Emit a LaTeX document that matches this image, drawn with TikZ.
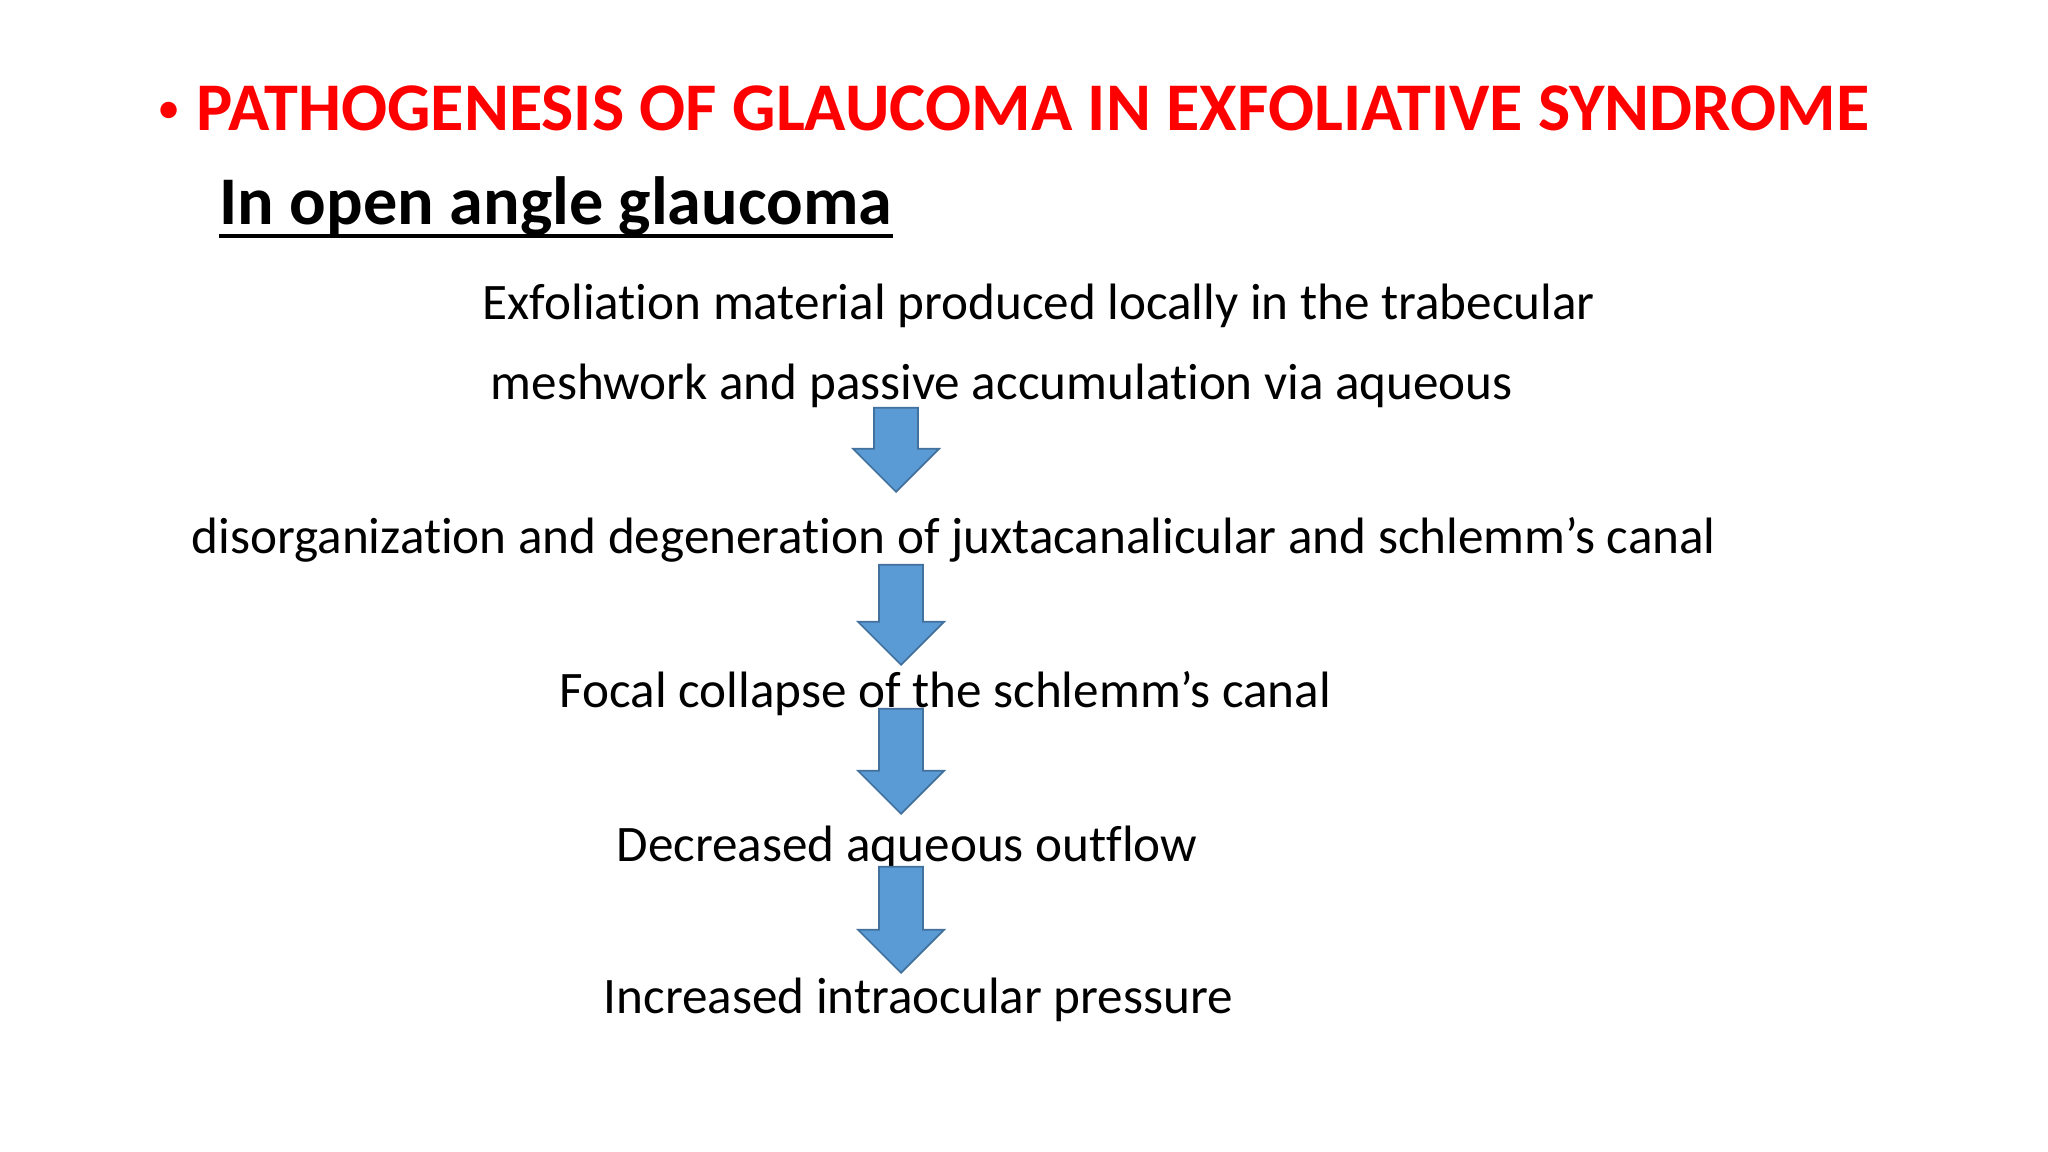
\documentclass[tikz,border=0pt]{standalone}
\usepackage{fontspec}
\setmainfont{Carlito}[Ligatures=NoCommon]
\usepackage{xcolor}
\definecolor{ttl}{HTML}{FF0000}
\definecolor{arfill}{HTML}{5B9BD5}
\definecolor{ardraw}{HTML}{41719C}
\usepackage{tikz}
\usetikzlibrary{shapes.arrows,calc}
\newcommand\slidebullet{\llap{\raisebox{2pt}{\fontsize{13.2}{16}\selectfont\mdseries\textbullet}\hspace{4.5pt}}}
\tikzset{
  title/.style={anchor=base west,inner sep=0pt,font=\fontsize{19.4}{23}\selectfont\bfseries,text=ttl},
  head/.style={anchor=base west,inner sep=0pt,font=\fontsize{19.4}{23}\selectfont\bfseries},
  txt/.style={anchor=base west,inner sep=0pt,font=\fontsize{14.55}{17}\selectfont},
  darrow/.style={single arrow,draw=ardraw,fill=arfill,line width=0.5pt,rotate=-90,anchor=tip,
    inner xsep=0pt,inner ysep=0.21cm,single arrow head extend=0.21cm},
}
\begin{document}
\begin{tikzpicture}[x=0.01cm,y=-0.01cm]
\useasboundingbox (0,0) rectangle (2048,1152);
\node[title] (ttl) at (196,131) {\slidebullet PATHOGENESIS OF GLAUCOMA IN EXFOLIATIVE SYNDROME};
\node[head] (sub) at (219,225) {In open angle glaucoma};
\draw[line width=1.1pt] ($(sub.base west)+(0,11)$) -- ($(sub.base east)+(0,11)$);
% chain of steps
\node[txt] (s1a) at (482,320) {Exfoliation material produced locally in the trabecular};
\node[txt] (s1b) at (490,400) {meshwork and passive accumulation via aqueous};
\node[txt] (s2) at (191,554) {disorganization and degeneration of juxtacanalicular and schlemm’s canal};
\node[txt] (s3) at (559,707) {Focal collapse of the schlemm’s canal};
\node[txt] (s4) at (616,861) {Decreased aqueous outflow};
\node[txt] (s5) at (603,1013) {Increased intraocular pressure};
% block arrows
\node[darrow,minimum height=0.84cm] (a1) at (896,493) {};
\node[darrow,minimum height=1.0cm] (a2) at (901,666) {};
\node[darrow,minimum height=1.05cm] (a3) at (901,815) {};
\node[darrow,minimum height=1.06cm] (a4) at (901,974) {};
\end{tikzpicture}
\end{document}
